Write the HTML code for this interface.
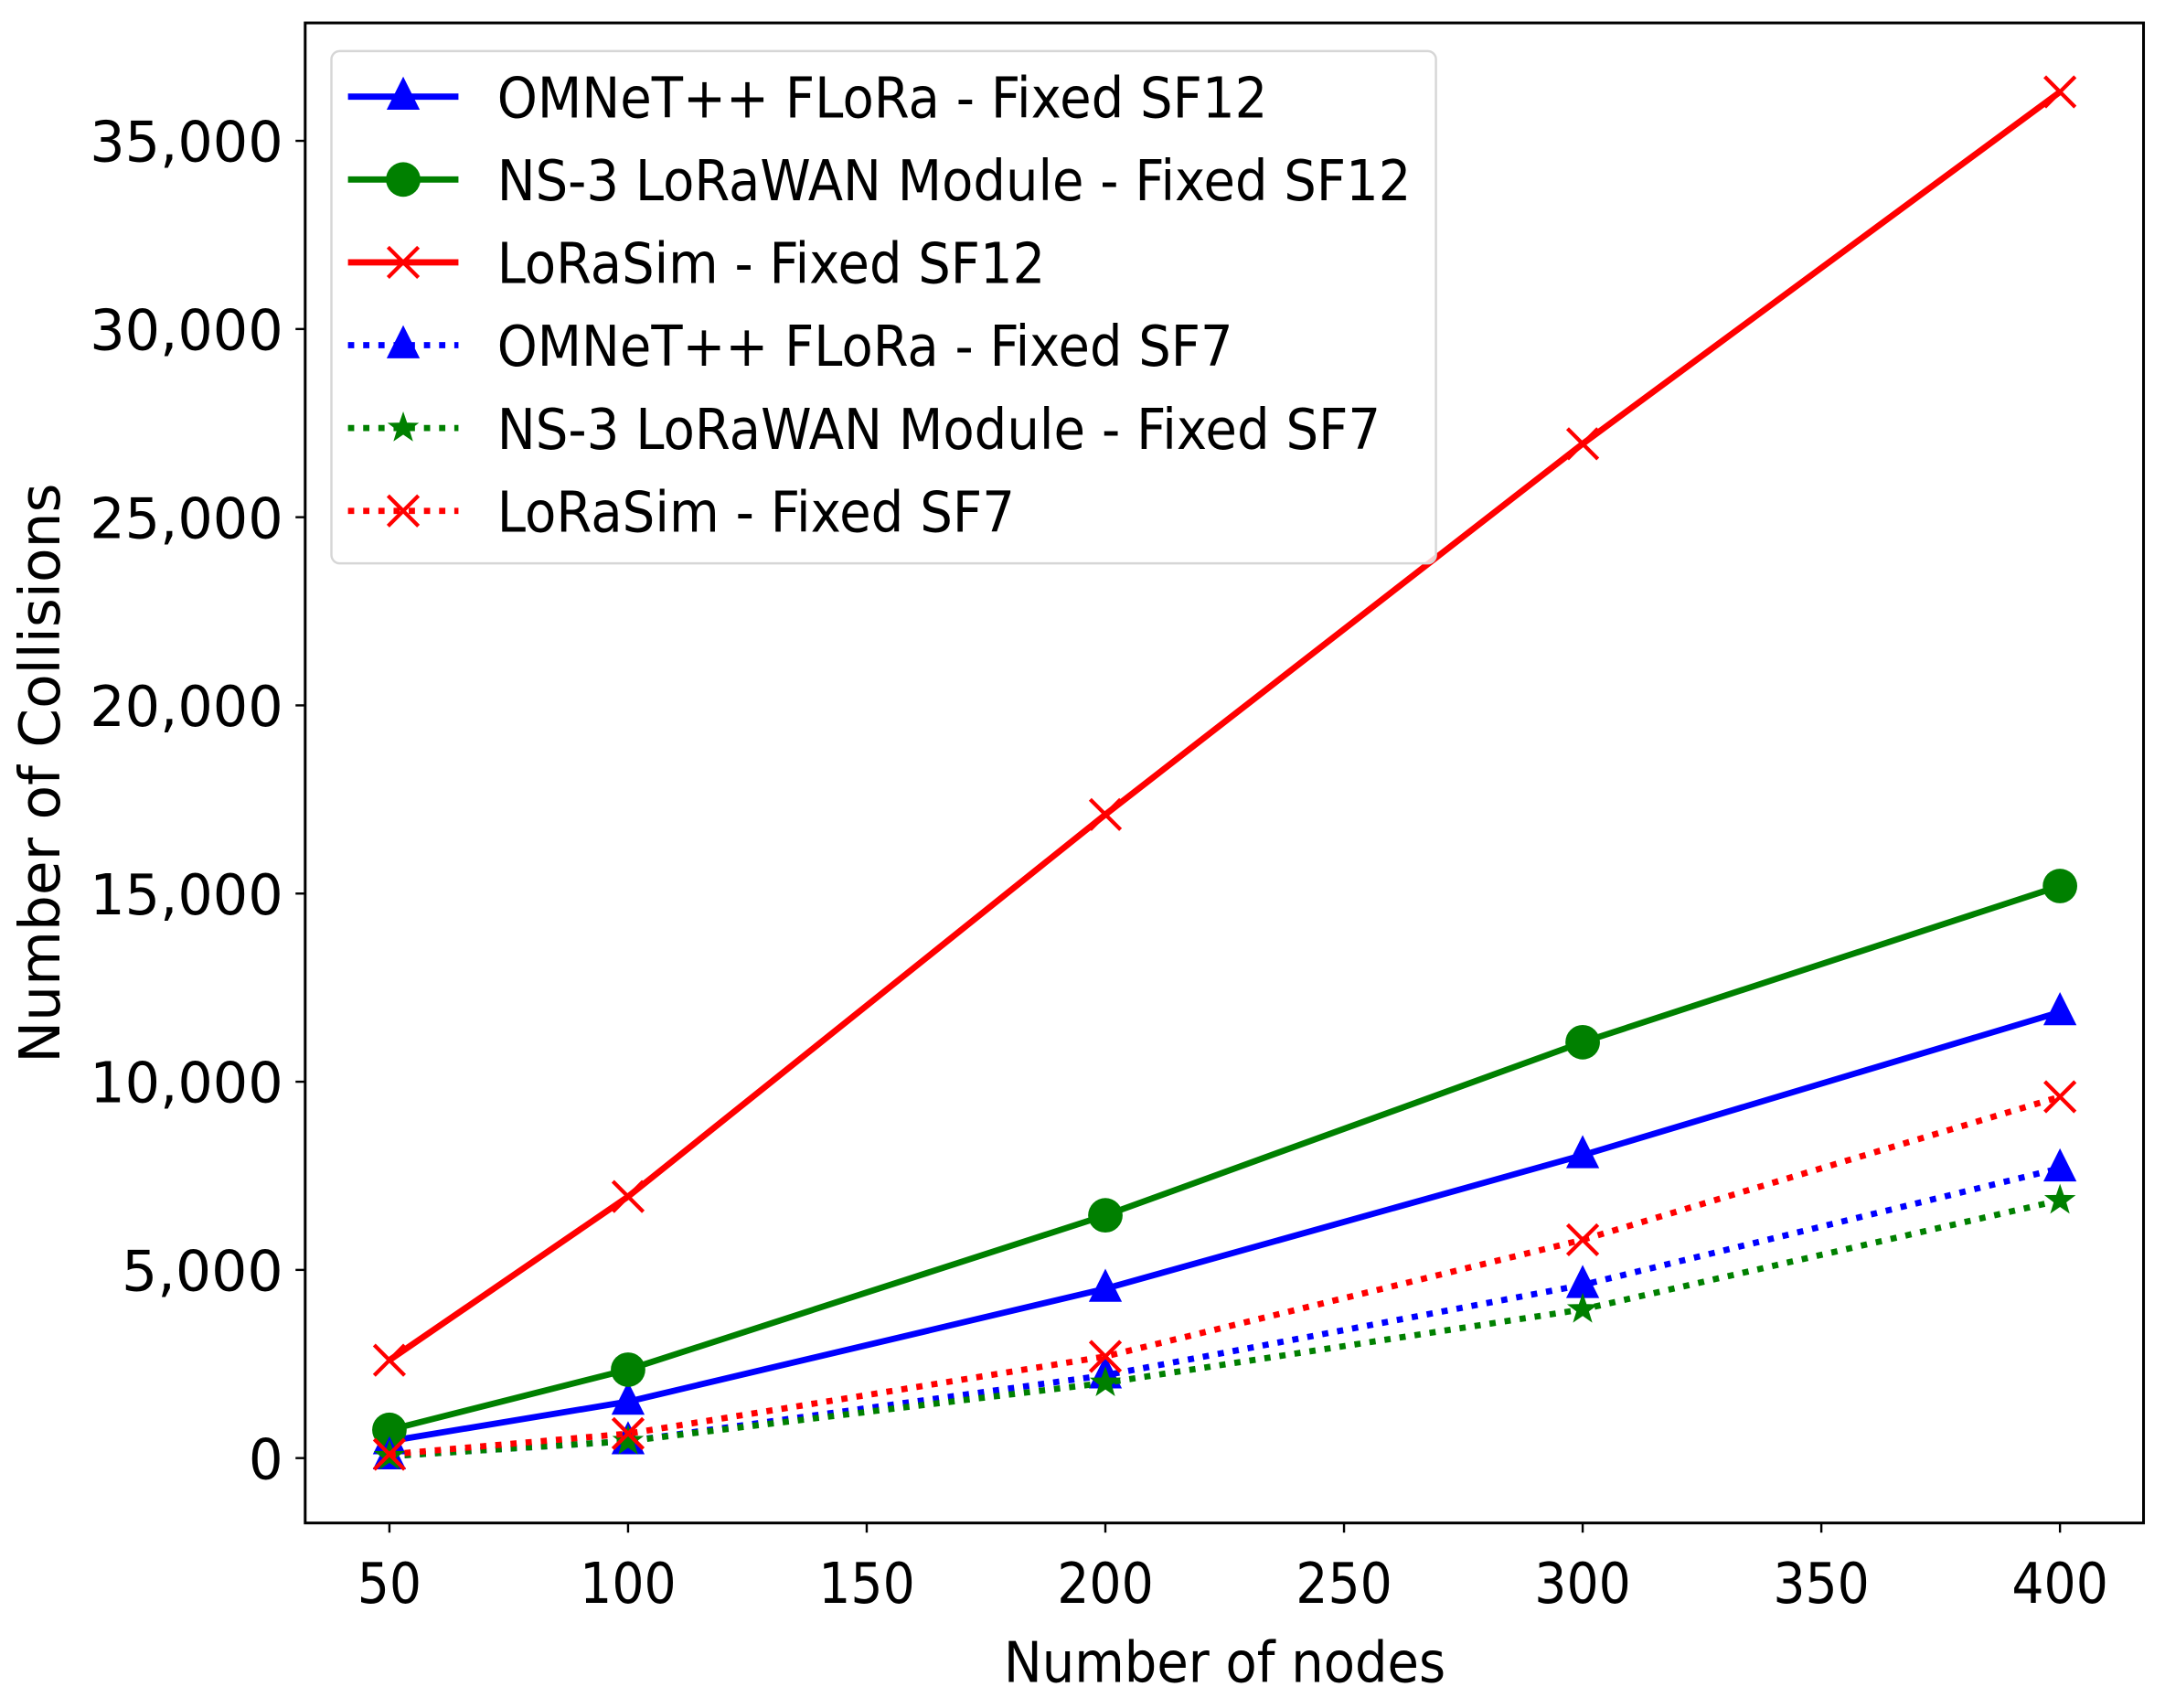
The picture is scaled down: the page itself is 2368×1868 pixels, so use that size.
<!DOCTYPE html>
<html><head><meta charset="utf-8"><style>html,body{margin:0;padding:0;background:#fff}svg{display:block}</style></head>
<body>
<svg id="s" xmlns="http://www.w3.org/2000/svg" width="2368" height="1868" viewBox="0 0 1568 1237" font-family="DejaVu Sans, Liberation Sans, sans-serif">
<rect x="0" y="0" width="1568" height="1237" fill="#fff"/>
<g id="plot"></g>
<rect x="221" y="16.6" width="1331.5" height="1086.4" fill="none" stroke="#000" stroke-width="2"/>
<g id="ticks" fill="#000"></g>
<text x="727" y="1218" font-size="41" textLength="320" lengthAdjust="spacingAndGlyphs">Number of nodes</text>
<text transform="translate(43,770) rotate(-90)" font-size="41" textLength="420" lengthAdjust="spacingAndGlyphs">Number of Collisions</text>
<g id="legend"></g>
</svg>
<script>
const NS="http://www.w3.org/2000/svg";
function X(n){return 282+(n-50)*3.4571;}
function Y(v){return 1056-v*0.027257;}
function el(p,t,a,txt){const e=document.createElementNS(NS,t);for(const k in a)e.setAttribute(k,a[k]);if(txt!==undefined)e.textContent=txt;p.appendChild(e);return e;}
const ns=[50,100,200,300,400];
const series=[
 {c:"blue",d:"",m:"tri",v:[450,1500,4500,8050,11850],l:"OMNeT++ FLoRa - Fixed SF12",w:558},
 {c:"green",d:"",m:"circ",v:[750,2350,6450,11050,15200],l:"NS-3 LoRaWAN Module - Fixed SF12",w:662},
 {c:"red",d:"",m:"x",v:[2600,6950,17100,26950,36300],l:"LoRaSim - Fixed SF12",w:397},
 {c:"blue",d:"4.5 6.5",m:"tri",v:[50,450,2200,4600,7700],l:"OMNeT++ FLoRa - Fixed SF7",w:533},
 {c:"green",d:"4.5 6.5",m:"star",v:[50,450,2000,3950,6850],l:"NS-3 LoRaWAN Module - Fixed SF7",w:640},
 {c:"red",d:"4.5 6.5",m:"x",v:[100,650,2700,5800,9600],l:"LoRaSim - Fixed SF7",w:375}
];
function marker(g,m,x,y,c){
 if(m==="tri")el(g,"polygon",{points:`${x},${y-14.5} ${x-12},${y+9.5} ${x+12},${y+9.5}`,fill:c});
 else if(m==="circ")el(g,"circle",{cx:x,cy:y,r:12.5,fill:c});
 else if(m==="x"){el(g,"path",{d:`M${x-11},${y-11}L${x+11},${y+11}M${x-11},${y+11}L${x+11},${y-11}`,stroke:c,"stroke-width":2.8,fill:"none"});}
 else if(m==="star"){let p=[];for(let i=0;i<10;i++){const r=i%2?4.8:12,a=-Math.PI/2+i*Math.PI/5;p.push((x+r*Math.cos(a)).toFixed(1)+","+(y+r*Math.sin(a)).toFixed(1));}el(g,"polygon",{points:p.join(" "),fill:c});}
}
const plot=document.getElementById("plot");
series.forEach(s=>{
 const pts=ns.map((n,i)=>X(n).toFixed(1)+","+Y(s.v[i]).toFixed(1)).join(" ");
 const a={points:pts,fill:"none",stroke:s.c,"stroke-width":4.5};
 if(s.d)a["stroke-dasharray"]=s.d;
 el(plot,"polyline",a);
 ns.forEach((n,i)=>marker(plot,s.m,X(n),Y(s.v[i]),s.c));
});
const tk=document.getElementById("ticks");
for(let n=50;n<=400;n+=50){const x=X(n);const t=String(n);const w=t.length*23.3;el(tk,"line",{x1:x,y1:1103,x2:x,y2:1110,stroke:"#000","stroke-width":1.6});el(tk,"text",{x:x-w/2,y:1161,"font-size":41,textLength:w,lengthAdjust:"spacingAndGlyphs"},t);}
for(let v=0;v<=35000;v+=5000){const y=Y(v);const t=v.toLocaleString("en-US");const w=v===0?25:(t.length===5?117:140);el(tk,"line",{x1:214,y1:y,x2:221,y2:y,stroke:"#000","stroke-width":1.6});el(tk,"text",{x:205-w,y:y+15,"font-size":41,textLength:w,lengthAdjust:"spacingAndGlyphs"},t);}
const lg=document.getElementById("legend");
el(lg,"rect",{x:240,y:37,width:800,height:371,rx:6,fill:"#fff","fill-opacity":0.8,stroke:"#d6d6d6","stroke-width":1.6});
series.forEach((s,i)=>{
 const y=70+i*60;
 const a={x1:252,y1:y,x2:332,y2:y,stroke:s.c,"stroke-width":4.5};
 if(s.d)a["stroke-dasharray"]=s.d;
 el(lg,"line",a);
 marker(lg,s.m,292,y,s.c);
 el(lg,"text",{x:360,y:y+15,"font-size":41,textLength:s.w,lengthAdjust:"spacingAndGlyphs"},s.l);
});
</script>
</body></html>
